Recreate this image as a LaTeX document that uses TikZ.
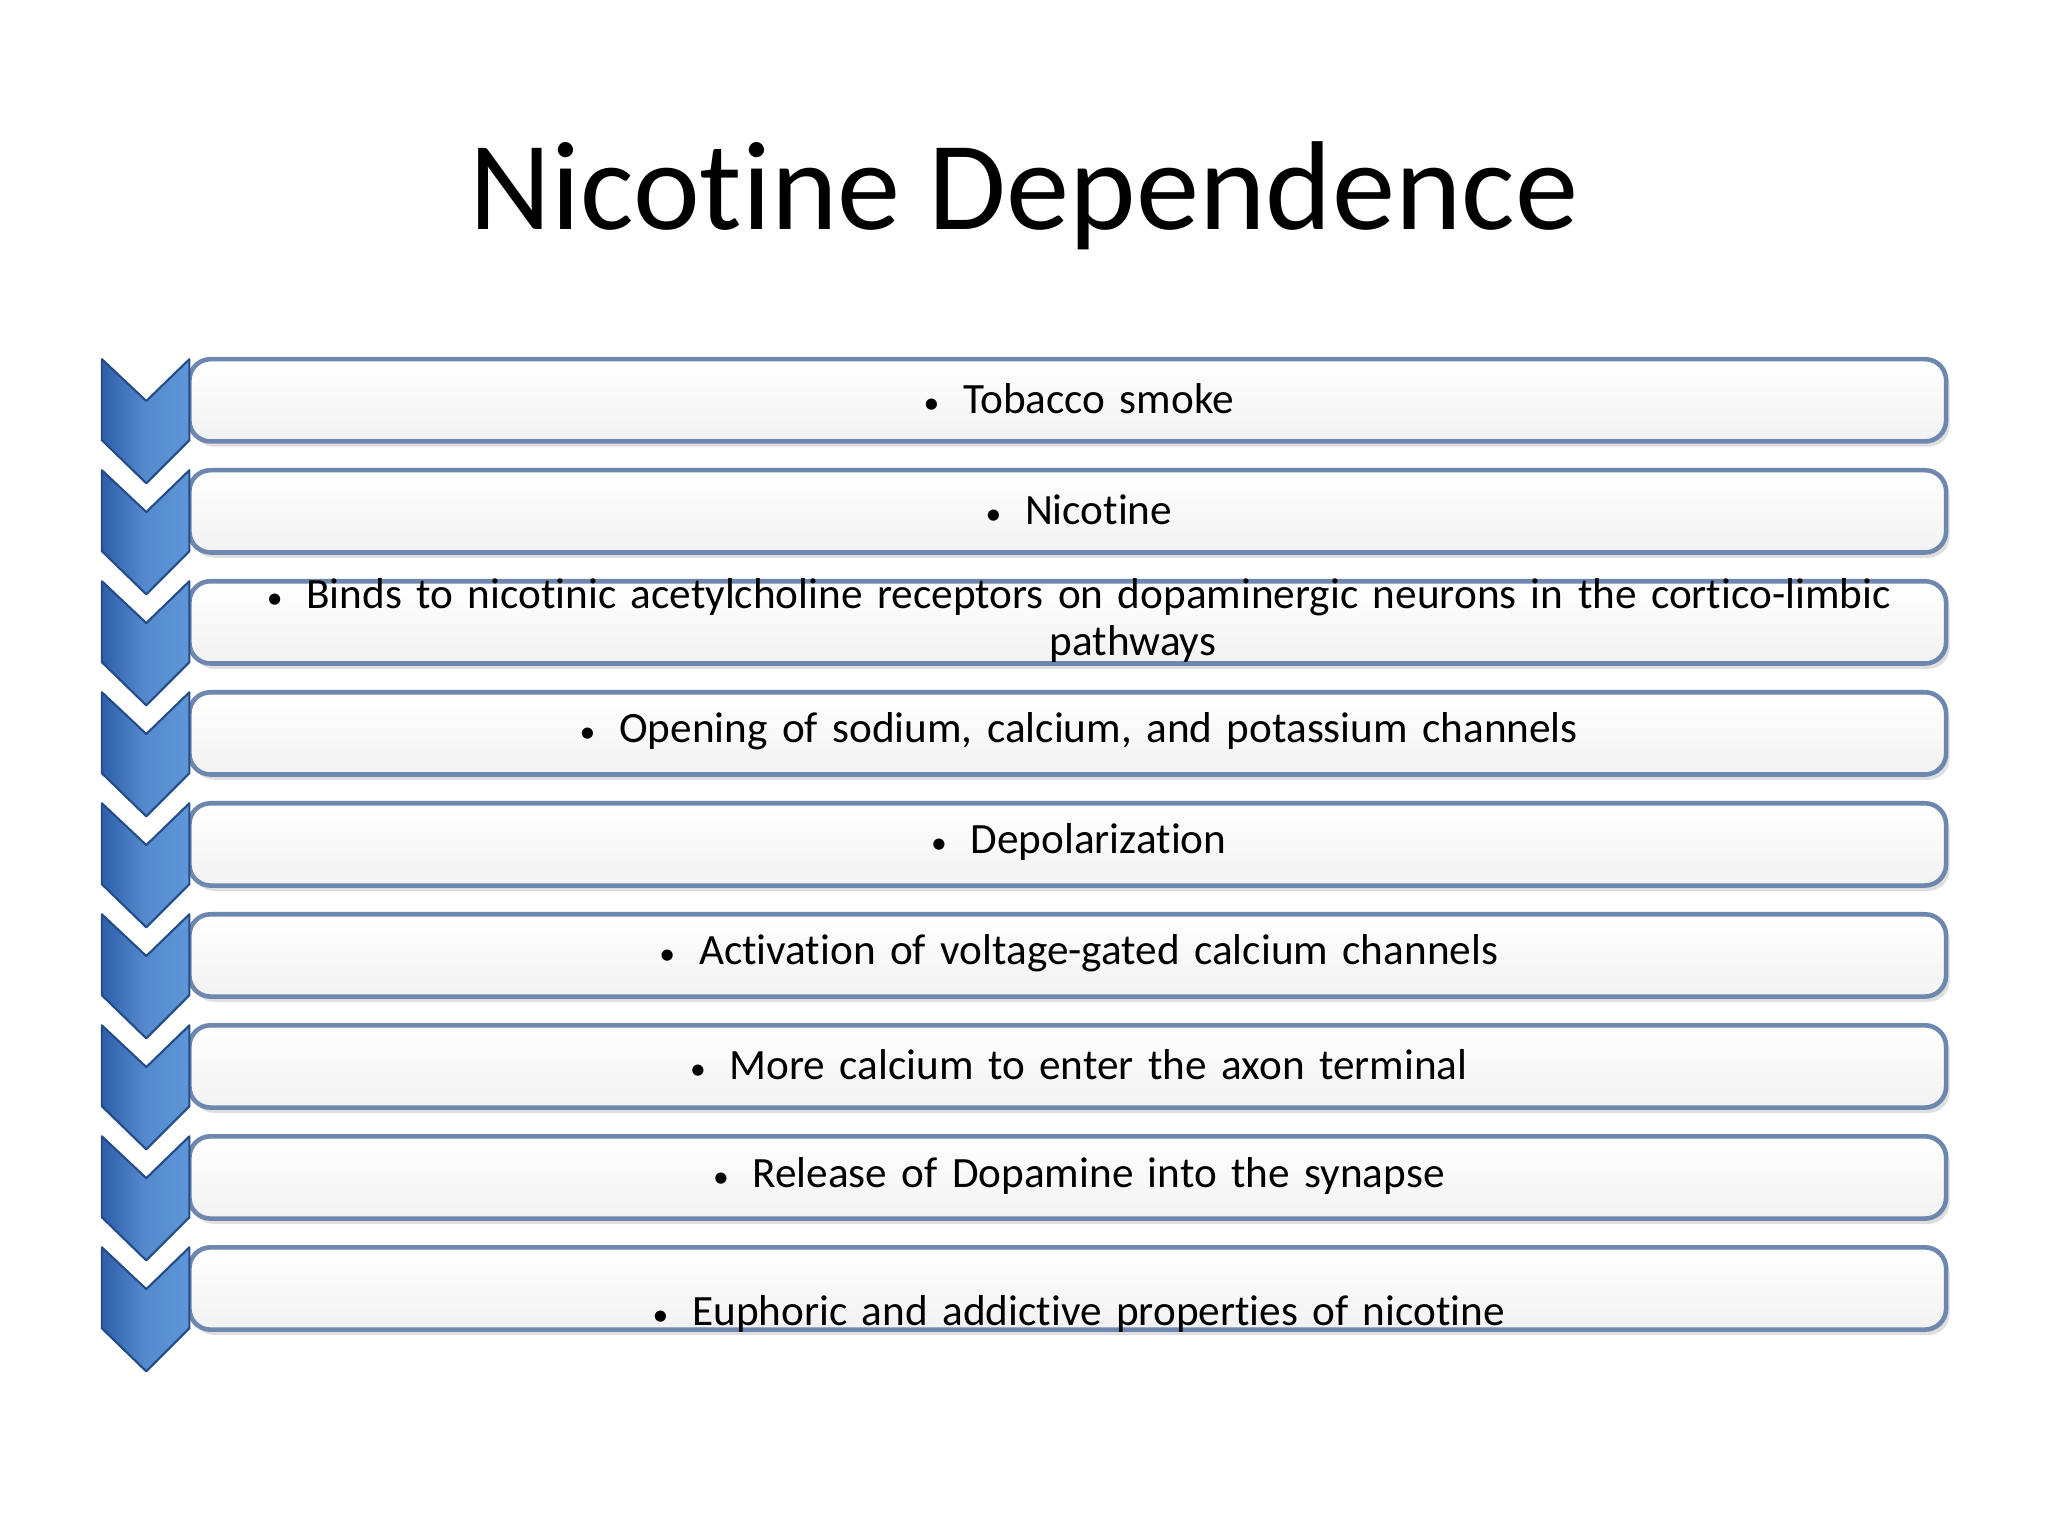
\documentclass[tikz,border=0pt]{standalone}
\usepackage{fontspec}
\setmainfont{Carlito}[Ligatures=NoCommon]
\usetikzlibrary{shadows}
\definecolor{boxline}{RGB}{110,135,175}
\definecolor{chevdark}{RGB}{45,95,170}
\definecolor{chevlight}{RGB}{95,150,215}
\tikzset{
  stepbox/.style={draw=boxline,line width=1.3pt,rounded corners=6pt,
    top color=white,bottom color=gray!10,drop shadow={opacity=0.25,shadow xshift=1pt,shadow yshift=-1.5pt}},
  chevron/.style={draw=chevdark!80!black,line width=0.6pt,line join=round,
    left color=chevdark,right color=chevlight,middle color=chevlight!80!chevdark},
  steptext/.style={font=\fontsize{12.3}{13.5}\selectfont,align=center,text width=17.5cm},
}
\newcommand{\stepbullet}{{\fontsize{9}{10}\selectfont\textbullet}\hspace{0.55em}}
\begin{document}
\begin{tikzpicture}[x=0.013061cm,y=-0.013061cm]
\fill[white] (0,0) rectangle (1568,1176);
\node (title) at (784,150) {\fontsize{36}{40}\selectfont Nicotine Dependence};
% rows of steps
\foreach \i in {0,...,8}{
\pgfmathsetmacro{\t}{275+85*\i}
\draw[stepbox] (145,\t) rectangle (1490,\t+63);
\draw[chevron] (78,\t) -- (112,\t+32) -- (145,\t) -- (145,\t+62) -- (112,\t+95) -- (78,\t+62) -- cycle;
}
\foreach \i/\txt in {0/Tobacco smoke,1/Nicotine,
  3/{Opening of sodium, calcium, and potassium channels},4/Depolarization,
  5/Activation of voltage-gated calcium channels,6/More calcium to enter the axon terminal,
  7/Release of Dopamine into the synapse}{
\pgfmathsetmacro{\t}{275+85*\i}
\node[steptext] (step\i) at (826,\t+30) {\stepbullet\txt};
}
\node[steptext] (step2) at (826,475) {\stepbullet Binds to nicotinic acetylcholine receptors on dopaminergic neurons in the cortico-limbic\\ \hspace*{2.5em}pathways};
\node[steptext] (step8) at (826,1006) {\stepbullet Euphoric and addictive properties of nicotine};
\end{tikzpicture}
\end{document}
